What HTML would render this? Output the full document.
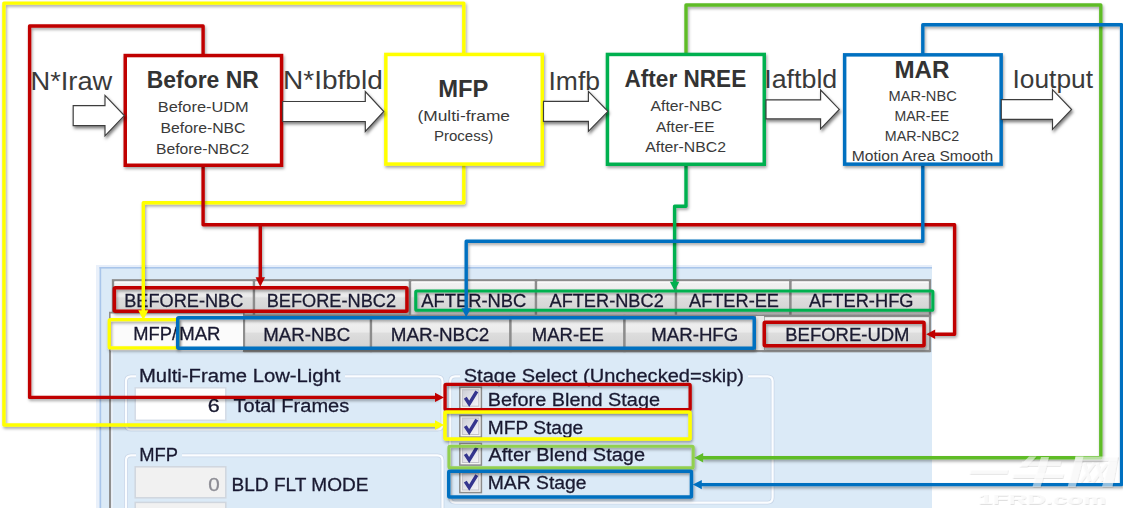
<!DOCTYPE html>
<html><head><meta charset="utf-8"><title>diagram</title>
<style>html,body{margin:0;padding:0;background:#fff;overflow:hidden}svg{display:block;font-family:"Liberation Sans",sans-serif}</style></head><body>
<svg width="1123" height="510" viewBox="0 0 1123 510">
<defs>
<filter id="sh" filterUnits="userSpaceOnUse" x="0" y="0" width="1123" height="510"><feDropShadow dx="1" dy="1.9" stdDeviation="1.4" flood-color="#000" flood-opacity="0.36"/></filter>
<filter id="sh2" filterUnits="userSpaceOnUse" x="0" y="0" width="1123" height="510"><feDropShadow dx="1.2" dy="2.3" stdDeviation="1.6" flood-color="#000" flood-opacity="0.5"/></filter>
<filter id="bl" filterUnits="userSpaceOnUse" x="0" y="0" width="1123" height="510"><feGaussianBlur stdDeviation="0.55"/></filter>
<linearGradient id="tab" x1="0" y1="0" x2="0" y2="1"><stop offset="0" stop-color="#f2f2f2"/><stop offset="0.45" stop-color="#ebebeb"/><stop offset="0.5" stop-color="#dddddd"/><stop offset="1" stop-color="#d0d0d0"/></linearGradient>
<linearGradient id="cb" x1="0" y1="0" x2="1" y2="1"><stop offset="0" stop-color="#cdced6"/><stop offset="0.6" stop-color="#e6e6ec"/><stop offset="1" stop-color="#f6f6fa"/></linearGradient>
<filter id="wmf" filterUnits="userSpaceOnUse" x="940" y="440" width="183" height="70"><feDropShadow dx="0.6" dy="1" stdDeviation="0.7" flood-color="#000" flood-opacity="0.22"/></filter>
</defs>
<rect width="1123" height="510" fill="#fff"/>
<g id="panel">
<rect x="96" y="265" width="836" height="243" fill="#dbeaf7"/>
<rect x="96" y="265" width="836" height="2" fill="#e6eefa"/>
<rect x="96" y="267" width="836" height="1.6" fill="#a9c5ea"/>
<rect x="96" y="265" width="3.5" height="243" fill="#e9f0fa"/>
<rect x="99.6" y="267" width="1.6" height="241" fill="#a9c5ea"/>
<rect x="109" y="312" width="2.2" height="196" fill="#8f8f8f"/>
<rect x="111.2" y="312" width="1.5" height="196" fill="#eef3fa"/>
<rect x="113" y="280.3" width="141" height="35.5" fill="url(#tab)" stroke="#8c8c8c" stroke-width="2.3"/>
<rect x="114.6" y="281.4" width="138" height="1.4" fill="#fafafa"/>
<rect x="254" y="280.3" width="156" height="35.5" fill="url(#tab)" stroke="#8c8c8c" stroke-width="2.3"/>
<rect x="255.6" y="281.4" width="153" height="1.4" fill="#fafafa"/>
<rect x="410" y="280.3" width="126" height="35.5" fill="url(#tab)" stroke="#8c8c8c" stroke-width="2.3"/>
<rect x="411.6" y="281.4" width="123" height="1.4" fill="#fafafa"/>
<rect x="536" y="280.3" width="140" height="35.5" fill="url(#tab)" stroke="#8c8c8c" stroke-width="2.3"/>
<rect x="537.6" y="281.4" width="137" height="1.4" fill="#fafafa"/>
<rect x="676" y="280.3" width="114.5" height="35.5" fill="url(#tab)" stroke="#8c8c8c" stroke-width="2.3"/>
<rect x="677.6" y="281.4" width="111.5" height="1.4" fill="#fafafa"/>
<rect x="790.5" y="280.3" width="139.5" height="35.5" fill="url(#tab)" stroke="#8c8c8c" stroke-width="2.3"/>
<rect x="792.1" y="281.4" width="136.5" height="1.4" fill="#fafafa"/>
<rect x="244" y="316" width="127" height="35" fill="url(#tab)" stroke="#8c8c8c" stroke-width="2.3"/>
<rect x="371" y="316" width="139.5" height="35" fill="url(#tab)" stroke="#8c8c8c" stroke-width="2.3"/>
<rect x="510.5" y="316" width="114.0" height="35" fill="url(#tab)" stroke="#8c8c8c" stroke-width="2.3"/>
<rect x="624.5" y="316" width="131.5" height="35" fill="url(#tab)" stroke="#8c8c8c" stroke-width="2.3"/>
<rect x="763.5" y="316" width="166.5" height="35" fill="url(#tab)" stroke="#8c8c8c" stroke-width="2.3"/>
<rect x="756" y="316" width="8" height="35" fill="#ebebeb"/>
<rect x="244" y="350" width="686" height="2.2" fill="#8a8a8a"/>
<path d="M109.8,351 V312.6 H243.8 V351" fill="#fbfbfb" stroke="#8e8e8e" stroke-width="1.6"/>
<path d="M136,376.3 H131 Q126,376.3 126,381.3 V424.5 Q126,429.5 131,429.5 H437.5 Q442.5,429.5 442.5,424.5 V381.3 Q442.5,376.3 437.5,376.3 H345" fill="none" stroke="#c9d7e9" stroke-width="3.8"/>
<path d="M136,376.3 H131 Q126,376.3 126,381.3 V424.5 Q126,429.5 131,429.5 H437.5 Q442.5,429.5 442.5,424.5 V381.3 Q442.5,376.3 437.5,376.3 H345" fill="none" stroke="#fbfdff" stroke-width="2.2"/>
<path d="M136,455.3 H131 Q126,455.3 126,460.3 V515 Q126,520 131,520 H437.5 Q442.5,520 442.5,515 V460.3 Q442.5,455.3 437.5,455.3 H182" fill="none" stroke="#c9d7e9" stroke-width="3.8"/>
<path d="M136,455.3 H131 Q126,455.3 126,460.3 V515 Q126,520 131,520 H437.5 Q442.5,520 442.5,515 V460.3 Q442.5,455.3 437.5,455.3 H182" fill="none" stroke="#fbfdff" stroke-width="2.2"/>
<path d="M460,376.3 H455.2 Q450.2,376.3 450.2,381.3 V497.6 Q450.2,502.6 455.2,502.6 H767.6 Q772.6,502.6 772.6,497.6 V381.3 Q772.6,376.3 767.6,376.3 H748" fill="none" stroke="#c9d7e9" stroke-width="3.8"/>
<path d="M460,376.3 H455.2 Q450.2,376.3 450.2,381.3 V497.6 Q450.2,502.6 455.2,502.6 H767.6 Q772.6,502.6 772.6,497.6 V381.3 Q772.6,376.3 767.6,376.3 H748" fill="none" stroke="#fbfdff" stroke-width="2.2"/>
<rect x="135.2" y="387.8" width="90.6" height="32.5" fill="#ffffff" stroke="#d3dbe6" stroke-width="1.5"/>
<rect x="135.2" y="466.8" width="90.6" height="31" fill="#f1f1f1" stroke="#d0d6de" stroke-width="1.5"/>
<rect x="135.2" y="502.4" width="90.6" height="10" fill="#f1f1f1" stroke="#d0d6de" stroke-width="1.5"/>
<rect x="459.8" y="387.2" width="21.6" height="21.6" fill="#f4f4f4" stroke="#8c8c8c" stroke-width="1.5"/>
<rect x="462.4" y="389.8" width="16.4" height="16.4" fill="url(#cb)" stroke="#c2c2c8" stroke-width="1"/>
<path d="M465.3,397.8 L469.2,403.8 L476.8,391.4" fill="none" stroke="#34348e" stroke-width="3.4" stroke-linejoin="miter" filter="url(#bl)"/>
<rect x="459.8" y="415.5" width="21.6" height="21.6" fill="#f4f4f4" stroke="#8c8c8c" stroke-width="1.5"/>
<rect x="462.4" y="418.1" width="16.4" height="16.4" fill="url(#cb)" stroke="#c2c2c8" stroke-width="1"/>
<path d="M465.3,426.1 L469.2,432.1 L476.8,419.7" fill="none" stroke="#34348e" stroke-width="3.4" stroke-linejoin="miter" filter="url(#bl)"/>
<rect x="459.8" y="443.5" width="21.6" height="21.6" fill="#f4f4f4" stroke="#8c8c8c" stroke-width="1.5"/>
<rect x="462.4" y="446.1" width="16.4" height="16.4" fill="url(#cb)" stroke="#c2c2c8" stroke-width="1"/>
<path d="M465.3,454.1 L469.2,460.1 L476.8,447.7" fill="none" stroke="#34348e" stroke-width="3.4" stroke-linejoin="miter" filter="url(#bl)"/>
<rect x="459.8" y="471" width="21.6" height="21.6" fill="#f4f4f4" stroke="#8c8c8c" stroke-width="1.5"/>
<rect x="462.4" y="473.6" width="16.4" height="16.4" fill="url(#cb)" stroke="#c2c2c8" stroke-width="1"/>
<path d="M465.3,481.6 L469.2,487.6 L476.8,475.2" fill="none" stroke="#34348e" stroke-width="3.4" stroke-linejoin="miter" filter="url(#bl)"/>
</g>
<g id="uitext">
<text x="124.25" y="307.0" font-size="19.2" font-weight="normal" fill="#1a1a30" stroke="#1a1a30" stroke-width="0.3" textLength="119.00" lengthAdjust="spacingAndGlyphs" filter="url(#bl)">BEFORE-NBC</text>
<text x="266.75" y="307.0" font-size="19.2" font-weight="normal" fill="#1a1a30" stroke="#1a1a30" stroke-width="0.3" textLength="129.25" lengthAdjust="spacingAndGlyphs" filter="url(#bl)">BEFORE-NBC2</text>
<text x="421.25" y="307.0" font-size="19.2" font-weight="normal" fill="#1a1a30" stroke="#1a1a30" stroke-width="0.3" textLength="105.00" lengthAdjust="spacingAndGlyphs" filter="url(#bl)">AFTER-NBC</text>
<text x="549.50" y="307.0" font-size="19.2" font-weight="normal" fill="#1a1a30" stroke="#1a1a30" stroke-width="0.3" textLength="114.25" lengthAdjust="spacingAndGlyphs" filter="url(#bl)">AFTER-NBC2</text>
<text x="689.00" y="307.0" font-size="19.2" font-weight="normal" fill="#1a1a30" stroke="#1a1a30" stroke-width="0.3" textLength="90.00" lengthAdjust="spacingAndGlyphs" filter="url(#bl)">AFTER-EE</text>
<text x="809.00" y="307.0" font-size="19.2" font-weight="normal" fill="#1a1a30" stroke="#1a1a30" stroke-width="0.3" textLength="104.50" lengthAdjust="spacingAndGlyphs" filter="url(#bl)">AFTER-HFG</text>
<text x="133.25" y="340.2" font-size="19.2" font-weight="normal" fill="#1a1a30" stroke="#1a1a30" stroke-width="0.3" textLength="43.75" lengthAdjust="spacingAndGlyphs" filter="url(#bl)">MFP/</text>
<text x="179.25" y="340.2" font-size="19.2" font-weight="normal" fill="#1a1a30" stroke="#1a1a30" stroke-width="0.3" textLength="41.25" lengthAdjust="spacingAndGlyphs" filter="url(#bl)">MAR</text>
<text x="263.25" y="341.2" font-size="19.2" font-weight="normal" fill="#1a1a30" stroke="#1a1a30" stroke-width="0.3" textLength="87.00" lengthAdjust="spacingAndGlyphs" filter="url(#bl)">MAR-NBC</text>
<text x="390.75" y="341.2" font-size="19.2" font-weight="normal" fill="#1a1a30" stroke="#1a1a30" stroke-width="0.3" textLength="98.50" lengthAdjust="spacingAndGlyphs" filter="url(#bl)">MAR-NBC2</text>
<text x="531.75" y="341.2" font-size="19.2" font-weight="normal" fill="#1a1a30" stroke="#1a1a30" stroke-width="0.3" textLength="72.00" lengthAdjust="spacingAndGlyphs" filter="url(#bl)">MAR-EE</text>
<text x="651.25" y="341.2" font-size="19.2" font-weight="normal" fill="#1a1a30" stroke="#1a1a30" stroke-width="0.3" textLength="87.00" lengthAdjust="spacingAndGlyphs" filter="url(#bl)">MAR-HFG</text>
<text x="785.25" y="340.9" font-size="19.2" font-weight="normal" fill="#1a1a30" stroke="#1a1a30" stroke-width="0.3" textLength="124.25" lengthAdjust="spacingAndGlyphs" filter="url(#bl)">BEFORE-UDM</text>
<text x="139.00" y="382.4" font-size="19.2" font-weight="normal" fill="#1a1a30" stroke="#1a1a30" stroke-width="0.3" textLength="201.50" lengthAdjust="spacingAndGlyphs" filter="url(#bl)">Multi-Frame Low-Light</text>
<text x="233.50" y="411.8" font-size="19.2" font-weight="normal" fill="#1a1a30" stroke="#1a1a30" stroke-width="0.3" textLength="115.75" lengthAdjust="spacingAndGlyphs" filter="url(#bl)">Total Frames</text>
<text x="207.75" y="411.8" font-size="19.2" font-weight="normal" fill="#1a1a30" stroke="#1a1a30" stroke-width="0.3" textLength="12.00" lengthAdjust="spacingAndGlyphs" filter="url(#bl)">6</text>
<text x="139.25" y="461.4" font-size="19.2" font-weight="normal" fill="#1a1a30" stroke="#1a1a30" stroke-width="0.3" textLength="38.75" lengthAdjust="spacingAndGlyphs" filter="url(#bl)">MFP</text>
<text x="231.50" y="490.9" font-size="19.2" font-weight="normal" fill="#1a1a30" stroke="#1a1a30" stroke-width="0.3" textLength="137.00" lengthAdjust="spacingAndGlyphs" filter="url(#bl)">BLD FLT MODE</text>
<text x="463.75" y="382.3" font-size="19.2" font-weight="normal" fill="#1a1a30" stroke="#1a1a30" stroke-width="0.3" textLength="280.25" lengthAdjust="spacingAndGlyphs" filter="url(#bl)">Stage Select (Unchecked=skip)</text>
<text x="487.75" y="405.7" font-size="19.2" font-weight="normal" fill="#1a1a30" stroke="#1a1a30" stroke-width="0.3" textLength="172.25" lengthAdjust="spacingAndGlyphs" filter="url(#bl)">Before Blend Stage</text>
<text x="487.75" y="433.6" font-size="19.2" font-weight="normal" fill="#1a1a30" stroke="#1a1a30" stroke-width="0.3" textLength="95.50" lengthAdjust="spacingAndGlyphs" filter="url(#bl)">MFP Stage</text>
<text x="488.50" y="461.4" font-size="19.2" font-weight="normal" fill="#1a1a30" stroke="#1a1a30" stroke-width="0.3" textLength="156.50" lengthAdjust="spacingAndGlyphs" filter="url(#bl)">After Blend Stage</text>
<text x="487.75" y="488.7" font-size="19.2" font-weight="normal" fill="#1a1a30" stroke="#1a1a30" stroke-width="0.3" textLength="98.75" lengthAdjust="spacingAndGlyphs" filter="url(#bl)">MAR Stage</text>
<text x="208.25" y="490.9" font-size="19.2" font-weight="normal" fill="#8c8c94" stroke="#8c8c94" stroke-width="0.3" textLength="11.50" lengthAdjust="spacingAndGlyphs" filter="url(#bl)">0</text>
</g>
<g id="hl">
<rect x="114.35" y="287.75" width="292.60" height="23.40" fill="none" stroke="#c00000" stroke-width="3.5" rx="1" filter="url(#sh)"/>
<rect x="415.75" y="291.05" width="517.10" height="19.20" fill="none" stroke="#00b050" stroke-width="3.1" rx="1" filter="url(#sh)"/>
<rect x="109.25" y="319.55" width="68.50" height="28.40" fill="none" stroke="#ffff00" stroke-width="3.3" rx="1" filter="url(#sh)"/>
<rect x="177.75" y="317.75" width="576.50" height="30.50" fill="none" stroke="#0070c0" stroke-width="3.5" rx="1" filter="url(#sh)"/>
<rect x="764.25" y="322.15" width="159.80" height="23.60" fill="none" stroke="#c00000" stroke-width="3.5" rx="1" filter="url(#sh)"/>
<rect x="445.05" y="384.45" width="245.10" height="25.10" fill="none" stroke="#c00000" stroke-width="3.3" rx="1" filter="url(#sh)"/>
<rect x="444.95" y="411.95" width="245.10" height="27.10" fill="none" stroke="#ffff00" stroke-width="3.5" rx="1" filter="url(#sh)"/>
<rect x="448.95" y="446.25" width="244.20" height="21.60" fill="none" stroke="#92d050" stroke-width="3.1" rx="1" filter="url(#sh)"/>
<rect x="448.75" y="471.35" width="242.70" height="25.70" fill="none" stroke="#0070c0" stroke-width="3.5" rx="1" filter="url(#sh)"/>
</g>
<g id="lines">
<path d="M463.8,54 V3.1 H3.9 V425 H437" fill="none" stroke="#ffff00" stroke-width="3.4" stroke-linejoin="round" stroke-linecap="butt" filter="url(#sh)"/>
<polygon points="444,425 435,420.3 435,429.7" fill="#ffff00"/>
<path d="M463.8,165 V202.8 H143.3 V311.5" fill="none" stroke="#ffff00" stroke-width="3.4" stroke-linejoin="round" stroke-linecap="butt" filter="url(#sh)"/>
<polygon points="143.3,320.2 138.3,310.2 148.3,310.2" fill="#ffff00"/>
<path d="M203.1,55 V26 H29.6 V397.4 H437" fill="none" stroke="#c00000" stroke-width="3.4" stroke-linejoin="round" stroke-linecap="butt" filter="url(#sh)"/>
<polygon points="444,397.4 435,392.7 435,402.09999999999997" fill="#c00000"/>
<path d="M203.1,166 V224.7 H954.6 V334.3 H933" fill="none" stroke="#c00000" stroke-width="3.4" stroke-linejoin="round" stroke-linecap="butt" filter="url(#sh)"/>
<polygon points="926.2,334.3 935.2,329.6 935.2,339.0" fill="#c00000"/>
<path d="M260.3,224.7 V279" fill="none" stroke="#c00000" stroke-width="3.4" stroke-linejoin="round" stroke-linecap="butt" filter="url(#sh)"/>
<polygon points="260.3,286.8 255.60000000000002,277.2 265.0,277.2" fill="#c00000"/>
<path d="M686,165 V206.2 H674.6 V283" fill="none" stroke="#00b050" stroke-width="3.4" stroke-linejoin="round" stroke-linecap="butt" filter="url(#sh)"/>
<polygon points="674.6,290.8 669.9,281.8 679.3000000000001,281.8" fill="#00b050"/>
<path d="M686,54 V5 H1100.8 V457.8 H702" fill="none" stroke="#5fbc28" stroke-width="3.4" stroke-linejoin="round" stroke-linecap="butt" filter="url(#sh)"/>
<polygon points="694.2,457.8 703.2,453.1 703.2,462.5" fill="#5fbc28"/>
<path d="M922.8,54 V24.8 H1121.6 V484.6 H701" fill="none" stroke="#0070c0" stroke-width="3.4" stroke-linejoin="round" stroke-linecap="butt" filter="url(#sh)"/>
<polygon points="692.8,484.6 701.8,479.90000000000003 701.8,489.3" fill="#0070c0"/>
<path d="M922.8,165 V241.2 H466.2 V310" fill="none" stroke="#0070c0" stroke-width="3.4" stroke-linejoin="round" stroke-linecap="butt" filter="url(#sh)"/>
<polygon points="466.2,317.2 461.5,308.2 470.9,308.2" fill="#0070c0"/>
</g>
<g id="boxes">
<rect x="125.25" y="55.55" width="156.30" height="109.70" fill="#fff" stroke="#c00000" stroke-width="3.5" filter="url(#sh)"/>
<rect x="385.85" y="54.45" width="156.40" height="109.60" fill="#fff" stroke="#ffff00" stroke-width="3.5" filter="url(#sh)"/>
<rect x="607.45" y="54.45" width="156.80" height="109.80" fill="#fff" stroke="#00b050" stroke-width="3.5" filter="url(#sh)"/>
<rect x="844.65" y="54.85" width="156.50" height="109.30" fill="#fff" stroke="#0070c0" stroke-width="3.5" filter="url(#sh)"/>
</g>
<g id="arrows">
<path d="M73.2,105.6 H105 V95.39999999999999 L124.3,115.6 L105,135.79999999999998 V125.6 H73.2 Z" fill="#fff" stroke="#3d3d3d" stroke-width="1.15" stroke-linejoin="miter" filter="url(#sh2)"/>
<path d="M282.7,101.5 H365.3 V91.5 L383.8,111.5 L365.3,131.5 V121.5 H282.7 Z" fill="#fff" stroke="#3d3d3d" stroke-width="1.15" stroke-linejoin="miter" filter="url(#sh2)"/>
<path d="M543.5,101.3 H588.4 V91.3 L607.9,111.3 L588.4,131.3 V121.3 H543.5 Z" fill="#fff" stroke="#3d3d3d" stroke-width="1.15" stroke-linejoin="miter" filter="url(#sh2)"/>
<path d="M766,99.9 H820.6 V90.0 L839.3,109.4 L820.6,128.8 V118.9 H766 Z" fill="#fff" stroke="#3d3d3d" stroke-width="1.15" stroke-linejoin="miter" filter="url(#sh2)"/>
<path d="M1001.3,99.6 H1052.5 V89.6 L1071.6,109.5 L1052.5,129.4 V119.4 H1001.3 Z" fill="#fff" stroke="#3d3d3d" stroke-width="1.15" stroke-linejoin="miter" filter="url(#sh2)"/>
</g>
<g id="dtext">
<text x="30.50" y="89.6" font-size="26.5" font-weight="normal" fill="#3a3a3a" textLength="81.75" lengthAdjust="spacingAndGlyphs">N*Iraw</text>
<text x="283.00" y="88.8" font-size="26.5" font-weight="normal" fill="#3a3a3a" textLength="99.75" lengthAdjust="spacingAndGlyphs">N*Ibfbld</text>
<text x="548.50" y="90.3" font-size="26.5" font-weight="normal" fill="#3a3a3a" textLength="51.50" lengthAdjust="spacingAndGlyphs">Imfb</text>
<text x="764.25" y="87.8" font-size="26.5" font-weight="normal" fill="#3a3a3a" textLength="73.00" lengthAdjust="spacingAndGlyphs">Iaftbld</text>
<text x="1012.50" y="88.1" font-size="26.5" font-weight="normal" fill="#3a3a3a" textLength="80.50" lengthAdjust="spacingAndGlyphs">Ioutput</text>
<text x="146.75" y="87.9" font-size="24" font-weight="bold" fill="#333" textLength="112.00" lengthAdjust="spacingAndGlyphs">Before NR</text>
<text x="438.25" y="96.7" font-size="24" font-weight="bold" fill="#333" textLength="50.25" lengthAdjust="spacingAndGlyphs">MFP</text>
<text x="624.50" y="86.8" font-size="23.6" font-weight="bold" fill="#333" textLength="121.75" lengthAdjust="spacingAndGlyphs">After NREE</text>
<text x="894.50" y="78.4" font-size="23.2" font-weight="bold" fill="#333" textLength="55.00" lengthAdjust="spacingAndGlyphs">MAR</text>
<text x="157.75" y="111.8" font-size="15.3" font-weight="normal" fill="#3a3a3a" textLength="91.00" lengthAdjust="spacingAndGlyphs">Before-UDM</text>
<text x="160.50" y="132.7" font-size="15.3" font-weight="normal" fill="#3a3a3a" textLength="85.00" lengthAdjust="spacingAndGlyphs">Before-NBC</text>
<text x="156.00" y="153.6" font-size="15.3" font-weight="normal" fill="#3a3a3a" textLength="93.25" lengthAdjust="spacingAndGlyphs">Before-NBC2</text>
<text x="417.50" y="120.6" font-size="15.3" font-weight="normal" fill="#3a3a3a" textLength="92.50" lengthAdjust="spacingAndGlyphs">(Multi-frame</text>
<text x="434.00" y="141.4" font-size="15.3" font-weight="normal" fill="#3a3a3a" textLength="59.25" lengthAdjust="spacingAndGlyphs">Process)</text>
<text x="650.50" y="110.9" font-size="15.3" font-weight="normal" fill="#3a3a3a" textLength="71.75" lengthAdjust="spacingAndGlyphs">After-NBC</text>
<text x="656.00" y="131.6" font-size="15.3" font-weight="normal" fill="#3a3a3a" textLength="58.50" lengthAdjust="spacingAndGlyphs">After-EE</text>
<text x="645.25" y="151.6" font-size="15.3" font-weight="normal" fill="#3a3a3a" textLength="80.75" lengthAdjust="spacingAndGlyphs">After-NBC2</text>
<text x="888.50" y="100.7" font-size="15.3" font-weight="normal" fill="#3a3a3a" textLength="68.25" lengthAdjust="spacingAndGlyphs">MAR-NBC</text>
<text x="894.50" y="120.7" font-size="15.3" font-weight="normal" fill="#3a3a3a" textLength="54.75" lengthAdjust="spacingAndGlyphs">MAR-EE</text>
<text x="884.75" y="140.8" font-size="15.3" font-weight="normal" fill="#3a3a3a" textLength="74.50" lengthAdjust="spacingAndGlyphs">MAR-NBC2</text>
<text x="851.75" y="160.6" font-size="15.3" font-weight="normal" fill="#3a3a3a" textLength="141.50" lengthAdjust="spacingAndGlyphs">Motion Area Smooth</text>
</g>
<g id="wm" fill="#ffffff" fill-opacity="0.55" filter="url(#wmf)">
<polygon points="970.5,469.5 1008,469.5 1007,473.7 969.5,473.7"/>
<polygon points="1029,456.5 1036.5,456.5 1027,466.5 1019,466.5"/>
<polygon points="1022,461.5 1061,461.5 1060,465.8 1021,465.8"/>
<polygon points="1013.5,473.6 1063.5,473.6 1062.5,478 1012.5,478"/>
<polygon points="1041,457 1049,457 1040.6,486.8 1032.5,486.8"/>
<polygon points="1075.5,456.5 1118,456.5 1117,460.8 1075,460.8"/>
<polygon points="1075.5,456.5 1083.5,456.5 1075.6,486.8 1067.7,486.8"/>
<polygon points="1110,456.5 1118,456.5 1112.5,486.8 1102,486.8"/>
<path d="M1084,463 L1089.5,481 M1094,463 L1080.5,481 M1097,463 L1102,481 M1107,463 L1093,481" stroke="#fff" stroke-opacity="0.55" stroke-width="3" fill="none"/>
<text x="978" y="504.4" font-size="14.5" font-weight="bold" textLength="128" lengthAdjust="spacingAndGlyphs">1FRD.com</text>
</g>
<rect x="0" y="508" width="1123" height="2" fill="#fff"/>
</svg></body></html>
